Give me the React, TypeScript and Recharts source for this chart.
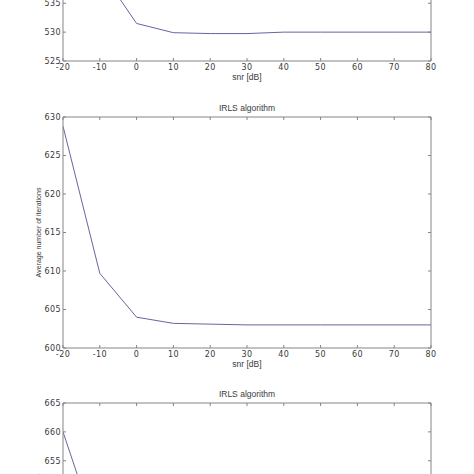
import React from "react";
import { LineChart, Line, XAxis, YAxis } from "recharts";

// snr axis shared by all three panels
const snr = [-20, -10, 0, 10, 20, 30, 40, 50, 60, 70, 80];
const snrTicks = [-20, -10, 0, 10, 20, 30, 40, 50, 60, 70, 80];

// average iterations per panel (top and bottom panels are mostly cut off)
const topIters = [552, 540.8, 531.5, 529.9, 529.75, 529.75, 530, 530, 530, 530, 530];
const midIters = [628.8, 609.7, 604.0, 603.2, 603.1, 603.0, 603.0, 603.0, 603.0, 603.0, 603.0];
const bottomIters = [660, 641, 634.5, 633.4, 633.2, 633.1, 633.1, 633.1, 633.1, 633.1, 633.1];

const topTicks = [525, 530, 535, 540, 545, 550, 555, 560, 565];
const midTicks = [600, 605, 610, 615, 620, 625, 630];
const bottomTicks = [625, 630, 635, 640, 645, 650, 655, 660, 665];

const title = "IRLS algorithm";
const xTitle = "snr [dB]";
const yTitle = "Average number of iterations";

const FONT = "'Liberation Sans', Arial, sans-serif";
const TICK_FONT = "'DejaVu Sans', sans-serif";
const AXIS = "#858585";
const TEXT = "#3a3a3a";
const LINE = "#6366a0";

const tickStyle = { fontSize: 8, fill: TEXT, fontFamily: TICK_FONT, letterSpacing: 0.4 };

interface PanelProps {
  values: number[];
  yTicks: number[];
  top: number;
}

const Panel = ({ values, yTicks, top }: PanelProps) => {
  const data = snr.map((s, i) => ({ snr: s, v: values[i] }));
  const yDomain = [yTicks[0], yTicks[yTicks.length - 1]];
  return (
    <div style={{ position: "absolute", left: 0, top }}>
      <LineChart
        width={474}
        height={281}
        data={data}
        margin={{ top: 19, right: 42, bottom: 0, left: 0 }}
      >
        <XAxis
          xAxisId="b"
          dataKey="snr"
          type="number"
          domain={[-20, 80]}
          ticks={snrTicks}
          interval={0}
          allowDataOverflow
          height={30}
          stroke={AXIS}
          tickSize={-3}
          tickMargin={6}
          tick={tickStyle}
          label={{ value: xTitle, position: "center", dy: 1, fontSize: 8.5, fill: TEXT, fontFamily: FONT }}
        />
        <XAxis
          xAxisId="t"
          orientation="top"
          dataKey="snr"
          type="number"
          domain={[-20, 80]}
          ticks={snrTicks}
          interval={0}
          allowDataOverflow
          height={1}
          stroke={AXIS}
          tickSize={-3}
          tickFormatter={() => ""}
          label={{ value: title, position: "top", offset: 5, fontSize: 8.5, fill: TEXT, fontFamily: FONT }}
        />
        <YAxis
          yAxisId="l"
          type="number"
          domain={yDomain}
          ticks={yTicks}
          interval={0}
          allowDataOverflow
          width={63}
          stroke={AXIS}
          tickSize={-3}
          tickMargin={5}
          tick={tickStyle}
          label={{ value: yTitle, angle: -90, position: "center", dx: 7, fontSize: 7, fill: TEXT, fontFamily: FONT }}
        />
        <YAxis
          yAxisId="r"
          orientation="right"
          type="number"
          domain={yDomain}
          ticks={yTicks}
          interval={0}
          allowDataOverflow
          width={1}
          stroke={AXIS}
          tickSize={-3}
          tickFormatter={() => ""}
        />
        <Line
          xAxisId="b"
          yAxisId="l"
          type="linear"
          dataKey="v"
          stroke={LINE}
          strokeWidth={1}
          dot={false}
          activeDot={false}
          isAnimationActive={false}
        />
      </LineChart>
    </div>
  );
};

export default function App() {
  return (
    <div
      style={{
        position: "fixed",
        left: 0,
        top: 0,
        width: 474,
        height: 474,
        overflow: "hidden",
        background: "#ffffff",
      }}
    >
      <Panel values={topIters} yTicks={topTicks} top={-190} />
      <Panel values={midIters} yTicks={midTicks} top={97} />
      <Panel values={bottomIters} yTicks={bottomTicks} top={383} />
    </div>
  );
}
